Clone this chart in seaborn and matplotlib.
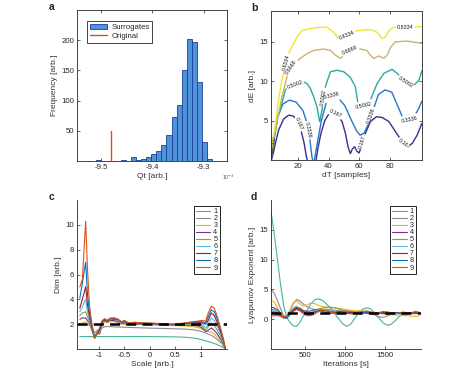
import numpy as np
import pandas as pd
import matplotlib
matplotlib.use("Agg")
import matplotlib.pyplot as plt
import seaborn as sns
from matplotlib.patches import Patch
from matplotlib.lines import Line2D

sns.set_theme(style="white")
plt.rcParams["font.family"] = ["Liberation Sans", "DejaVu Sans"]
plt.rcParams["axes.unicode_minus"] = False

# ---------------- Panel a: histogram ----------------
qt_bin_start = -9.5097      # x1e-3
qt_bin_width = 0.0098
qt_counts = [2, 0, 0, 0, 0, 2, 0, 7, 2, 4, 6, 11, 16, 27, 43, 73, 92, 150, 202, 197, 131, 32, 4]
orig_qt = -9.480
orig_height = 50

# ---------------- Panel b: contour lines ----------------
b_levels = [0.167, 0.3336, 0.5002, 0.6668, 0.8334]
b_x_167 = [2.4, 3.0, 4.0, 4.5, 7.35, 10.6, 13.9, 16.7, 19.3, 22.0, 24.1, 25.5, 26.1, 28.5, 31.8, 33.0, 35.0, 37.5, 40.0,
           42.5, 45.5, 48.8, 51.0, 52.7, 54.2, 55.5, 56.9, 58.6, 60.0, 61.2, 64.0, 67.3, 71.3, 75.0, 79.3, 83.7, 88.0,
           91.3, 94.6, 97.9, 101.0]
b_y_167 = [-0.3, 0.3, 1.0, 1.5, 3.8, 5.2, 5.7, 5.6, 5.2, 3.8, 2.1, 0.46, 0.0, -1.0, 0.0, 1.5, 3.4, 5.0, 5.8,
           6.1, 5.7, 4.9, 3.4, 1.7, 0.8, 1.4, 1.7, 1.1, 0.9, 1.7, 3.4, 4.9, 5.5, 5.4, 4.9, 3.6, 2.35,
           1.7, 2.1, 3.2, 4.7]
b_x_3336 = [2.4, 3.0, 4.0, 4.6, 6.8, 10.1, 14.45, 18.8, 23.2, 25.4, 27.6, 29.1, 30.0, 30.8, 33.1, 35.3, 38.6, 41.8,
            46.2, 50.6, 55.0, 58.3, 60.5, 63.3, 66.0, 69.2, 72.5, 76.9, 81.3, 84.6, 87.9, 91.1, 95.5, 98.8, 101.0]
b_y_3336 = [-0.1, 0.6, 1.8, 2.9, 5.5, 7.1, 7.6, 7.35, 6.3, 5.0, 2.9, 0.4, -0.4, 0.0, 2.6, 5.0, 7.35, 8.2,
            7.9, 6.9, 5.0, 3.7, 3.15, 3.4, 4.6, 6.4, 8.3, 8.9, 8.6, 7.1, 5.6, 5.0, 5.4, 6.5, 7.5]
b_x_5002 = [2.4, 3.0, 4.0, 5.2, 8.4, 11.7, 14.5, 18.3, 23.7, 25.9, 28.1, 30.3, 32.4, 34.2, 35.7, 37.9, 41.2, 45.5,
            49.9, 54.2, 57.5, 59.0, 60.8, 64.0, 67.3, 71.7, 76.1, 81.5, 84.8, 90.2, 95.7, 99.0, 101.0]
b_y_5002 = [0.05, 0.8, 2.2, 3.4, 6.3, 8.9, 9.4, 9.5, 9.9, 9.7, 9.1, 8.0, 6.8, 4.8, 6.3, 9.3, 11.2, 11.4,
            11.2, 10.5, 9.3, 7.4, 6.7, 7.0, 7.6, 9.7, 11.0, 11.5, 11.0, 9.8, 9.5, 10.1, 11.4]
b_x_6668 = [2.4, 3.0, 4.0, 6.3, 9.5, 12.8, 16.1, 21.5, 25.9, 30.3, 36.8, 41.2, 44.4, 47.7, 54.2, 60.8, 65.1, 67.3,
            69.5, 72.8, 76.0, 78.2, 80.4, 83.7, 91.3, 101.0]
b_y_6668 = [0.2, 1.0, 2.6, 4.66, 8.0, 10.5, 12.0, 12.9, 13.5, 13.9, 14.1, 13.9, 13.3, 12.9, 13.9, 14.1, 13.9, 13.3,
            12.9, 13.2, 12.9, 13.3, 14.3, 15.0, 15.1, 14.8]
b_x_8334 = [2.4, 3.0, 4.0, 5.2, 7.35, 9.5, 11.7, 13.9, 19.3, 22.6, 25.9, 32.4, 39.0, 43.3, 46.6, 52.0, 58.6, 67.3,
            71.7, 75.0, 77.1, 79.3, 82.6, 101.0]
b_y_8334 = [0.35, 1.3, 3.0, 4.24, 7.6, 10.1, 11.8, 13.5, 15.6, 16.4, 16.6, 16.8, 16.85, 16.2, 15.4, 15.8, 16.4, 16.55,
            16.2, 15.4, 15.6, 16.4, 16.85, 16.9]
b_colors = ["#3b2f8f", "#2677c9", "#2aaa9c", "#c9b56e", "#f1e52c"]

# ---------------- Panel c: dimension vs scale ----------------
c_scale = [-1.38, -1.33, -1.265, -1.23, -1.19, -1.14, -1.09, -1.04, -0.99, -0.94, -0.89, -0.84, -0.78, -0.70, -0.63,
           -0.56, -0.50, -0.42, -0.30, -0.15, 0.0, 0.2, 0.4, 0.55, 0.7, 0.85, 0.95, 1.03, 1.10, 1.15, 1.21, 1.27,
           1.33, 1.40, 1.45, 1.49]
c_m1 = [1.0, 1.0, 1.0, 1.0, 1.0, 1.0, 1.0, 1.0, 1.0, 1.0, 1.0, 1.0, 1.0, 1.0, 1.0, 1.0, 1.0, 1.0, 1.0, 1.0, 1.0,
        0.99, 0.98, 0.97, 0.95, 0.88, 0.82, 0.74, 0.66, 0.6, 0.52, 0.44, 0.35, 0.22, 0.12, 0.0]
c_m2 = [1.9, 1.95, 2.0, 1.95, 1.9, 1.8, 1.3, 1.5, 1.55, 1.7, 1.8, 1.8, 1.8, 1.78, 1.77, 1.76, 1.75, 1.74, 1.72, 1.7,
        1.68, 1.66, 1.64, 1.62, 1.6, 1.55, 1.48, 1.38, 1.28, 1.2, 1.1, 0.95, 0.75, 0.5, 0.25, 0.0]
c_m3 = [2.0, 2.1, 2.2, 2.1, 2.0, 1.6, 1.1, 1.3, 1.4, 1.9, 2.2, 2.1, 2.2, 2.2, 2.1, 2.0, 2.0, 2.0, 1.98, 1.97, 1.95,
        1.93, 1.9, 1.88, 1.85, 1.8, 1.72, 1.6, 1.45, 1.4, 1.35, 1.2, 0.95, 0.6, 0.3, 0.0]
c_m4 = [2.4, 2.5, 2.5, 2.3, 2.1, 1.5, 1.0, 1.3, 1.2, 2.0, 2.3, 2.2, 2.3, 2.3, 2.2, 2.05, 2.05, 2.0, 2.0, 2.0, 1.98,
        1.96, 1.94, 1.92, 1.92, 1.9, 1.85, 1.7, 1.4, 1.5, 1.7, 1.5, 1.2, 0.75, 0.4, 0.0]
c_m5 = [2.7, 2.9, 3.0, 2.6, 2.2, 1.5, 0.95, 1.25, 1.3, 2.0, 2.3, 2.2, 2.35, 2.4, 2.3, 2.1, 2.1, 2.05, 2.05, 2.0, 2.0,
        1.98, 1.95, 1.95, 1.97, 2.0, 1.95, 1.85, 1.5, 1.8, 2.1, 1.9, 1.5, 0.95, 0.45, 0.0]
c_m6 = [3.0, 3.4, 4.0, 3.0, 2.4, 1.6, 0.9, 1.2, 1.4, 2.1, 2.35, 2.25, 2.4, 2.4, 2.3, 2.1, 2.15, 2.05, 2.1, 2.05, 2.0,
        2.0, 1.97, 1.97, 2.0, 2.05, 2.05, 2.0, 1.7, 2.0, 2.5, 2.3, 1.8, 1.1, 0.55, 0.0]
c_m7 = [3.3, 4.0, 5.0, 3.6, 2.6, 1.7, 0.9, 1.2, 1.5, 2.2, 2.35, 2.2, 2.45, 2.4, 2.4, 2.15, 2.2, 2.1, 2.1, 2.05, 2.05,
        2.0, 1.98, 2.0, 2.05, 2.1, 2.15, 2.1, 2.0, 2.3, 2.9, 2.7, 2.1, 1.3, 0.65, 0.0]
c_m8 = [4.1, 5.3, 7.0, 4.5, 2.9, 1.8, 0.85, 1.3, 1.6, 2.2, 2.4, 2.3, 2.45, 2.5, 2.35, 2.2, 2.25, 2.1, 2.15, 2.1, 2.05,
        2.05, 2.0, 2.0, 2.1, 2.15, 2.2, 2.2, 2.1, 2.6, 3.15, 3.0, 2.4, 1.45, 0.7, 0.0]
c_m9 = [5.0, 5.6, 10.3, 6.5, 3.5, 2.0, 0.85, 1.3, 1.7, 2.3, 2.45, 2.3, 2.5, 2.5, 2.4, 2.2, 2.3, 2.1, 2.15, 2.1, 2.1,
        2.05, 2.0, 2.02, 2.1, 2.2, 2.25, 2.3, 2.25, 2.9, 3.45, 3.3, 2.6, 1.6, 0.8, 0.0]
c_ref = 2.05

# ---------------- Panel d: Lyapunov exponent ----------------
d_iter = [71, 110, 150, 190, 230, 270, 310, 350, 390, 430, 470, 520, 570, 620, 670, 720, 770, 820, 870, 920, 970,
          1020, 1070, 1120, 1170, 1220, 1270, 1320, 1370, 1420, 1470, 1520, 1570, 1620, 1670, 1720, 1770, 1820,
          1870, 1920]
d_m1 = [18.1, 14.5, 10.2, 5.9, 2.2, 0.3, -0.6, -1.1, -1.2, -0.6, 0.4, 1.5, 2.6, 3.3, 3.4, 3.1, 2.5, 1.8, 0.9, 0.0,
        -0.8, -1.2, -0.8, 0.2, 1.1, 1.7, 1.9, 1.7, 1.0, 0.2, -0.6, -1.0, -0.9, -0.3, 0.4, 0.9, 1.1, 1.1, 1.0, 1.0]
d_m2 = [5.0, 4.4, 3.2, 1.8, 0.6, 0.4, 1.5, 2.6, 3.3, 3.1, 2.6, 2.1, 1.8, 1.6, 1.5, 1.6, 1.7, 1.6, 1.5, 1.4, 1.3,
        1.2, 1.2, 1.1, 1.2, 1.3, 1.2, 1.0, 0.7, 0.4, 0.3, 0.5, 0.8, 1.0, 1.1, 1.0, 1.0, 1.1, 1.2, 1.1]
d_m3 = [3.2, 2.9, 2.0, 1.0, 0.5, 0.5, 1.6, 2.8, 3.1, 2.6, 2.2, 2.4, 2.7, 2.6, 2.3, 2.1, 2.0, 2.0, 1.9, 1.8, 1.7,
        1.6, 1.5, 1.4, 1.4, 1.3, 1.3, 1.2, 1.1, 1.0, 0.9, 0.8, 0.8, 0.7, 0.7, 0.6, 0.6, 0.5, 0.5, 0.5]
d_m4 = [2.0, 1.9, 1.6, 1.0, 0.3, 0.2, 0.8, 1.6, 2.0, 1.9, 1.5, 1.3, 1.4, 1.6, 1.7, 1.6, 1.4, 1.3, 1.2, 1.3, 1.4,
        1.3, 1.2, 1.1, 1.1, 1.2, 1.1, 1.0, 0.9, 1.0, 1.1, 1.0, 0.9, 1.0, 1.1, 1.0, 0.9, 1.0, 1.1, 1.0]
d_m5 = [1.7, 1.6, 1.3, 0.8, 0.4, 0.5, 1.0, 1.5, 1.8, 1.7, 1.3, 1.0, 1.1, 1.4, 1.7, 1.9, 2.0, 2.0, 1.9, 1.7, 1.5,
        1.3, 1.2, 1.2, 1.3, 1.3, 1.2, 1.1, 1.0, 1.0, 1.1, 1.1, 1.0, 1.0, 1.0, 1.1, 1.0, 1.0, 0.9, 1.0]
d_m6 = [1.4, 1.4, 1.2, 0.7, 0.2, 0.3, 1.2, 1.9, 2.2, 1.8, 1.1, 0.7, 0.8, 1.2, 1.5, 1.6, 1.5, 1.3, 1.1, 1.0, 1.0,
        1.1, 1.2, 1.2, 1.1, 1.0, 1.0, 1.1, 1.1, 1.0, 0.9, 1.0, 1.1, 1.0, 0.9, 1.0, 1.1, 1.0, 1.0, 1.0]
d_m7 = [1.2, 1.2, 1.0, 0.6, 0.3, 0.4, 1.0, 1.6, 1.9, 1.7, 1.3, 1.0, 1.0, 1.2, 1.4, 1.5, 1.4, 1.2, 1.1, 1.1, 1.2,
        1.2, 1.1, 1.0, 1.0, 1.1, 1.2, 1.1, 1.0, 1.0, 1.1, 1.2, 1.1, 1.0, 1.0, 1.1, 1.0, 1.0, 1.1, 1.0]
d_m8 = [1.0, 1.0, 0.8, 0.5, 0.2, 0.2, 0.8, 1.4, 1.7, 1.5, 1.1, 0.8, 0.9, 1.2, 1.4, 1.3, 1.1, 1.0, 1.0, 1.1, 1.1,
        1.0, 0.9, 1.0, 1.1, 1.1, 1.0, 0.9, 1.0, 1.1, 1.0, 0.9, 1.0, 1.1, 1.0, 0.9, 1.0, 1.1, 1.0, 1.0]
d_m9 = [0.5, 0.6, 0.6, 0.5, 0.4, 0.5, 0.9, 1.3, 1.6, 1.4, 1.0, 0.6, 0.6, 0.9, 1.3, 1.5, 1.4, 1.2, 1.0, 1.0, 1.2,
        1.4, 1.3, 1.1, 1.1, 1.3, 1.4, 1.2, 1.1, 1.1, 1.3, 1.2, 1.0, 0.9, 1.0, 1.2, 1.1, 1.0, 1.3, 1.2]
d_ref = 1.0

line_labels = ["1", "2", "3", "4", "5", "6", "7", "8", "9"]
line_colors = ["#45b39d", "#8a8a96", "#edb120", "#7e2f8e", "#77ac30", "#4dbeee", "#a2142f", "#0072bd", "#d95319"]

# ================= Figure =================
fig = plt.figure(figsize=(4.74, 3.79), dpi=100)
ax_a = fig.add_axes([0.1624, 0.5752, 0.3165, 0.398])
ax_b = fig.add_axes([0.5717, 0.5778, 0.3186, 0.393])
ax_c = fig.add_axes([0.1624, 0.0792, 0.3165, 0.393])
ax_d = fig.add_axes([0.5717, 0.0792, 0.3165, 0.393])

tick_fs = 5.6
lab_fs = 6.0
spine_col = "#262626"


def style(ax, box):
    for s in ["left", "bottom", "top", "right"]:
        ax.spines[s].set_visible(box or s in ("left", "bottom"))
        ax.spines[s].set_linewidth(0.6)
        ax.spines[s].set_color(spine_col)
    ax.tick_params(direction="in", length=2.5, width=0.5, labelsize=tick_fs, pad=2,
                   colors=spine_col, top=box, right=box, bottom=True, left=True)
    ax.xaxis.label.set_size(lab_fs)
    ax.yaxis.label.set_size(lab_fs)
    ax.xaxis.label.set_color("#333333")
    ax.yaxis.label.set_color("#333333")
    ax.xaxis.labelpad = 1.5
    ax.yaxis.labelpad = 2.5


# ---- a ----
edges = (qt_bin_start + qt_bin_width * np.arange(len(qt_counts) + 1)).tolist()
centers = [(edges[i] + edges[i + 1]) / 2 for i in range(len(qt_counts))]
df_a = pd.DataFrame({"qt": centers, "count": qt_counts})
sns.histplot(data=df_a, x="qt", weights="count", bins=edges, ax=ax_a, color="#4f93dc",
             edgecolor="#1b3f94", linewidth=0.6, alpha=1.0)
ax_a.plot([orig_qt, orig_qt], [0, orig_height], color="#d95319", lw=1.0)
ax_a.set_xlim(-9.547, -9.2545)
ax_a.set_ylim(0, 250)
ax_a.set_xticks([-9.5, -9.4, -9.3])
ax_a.set_xticklabels(["-9.5", "-9.4", "-9.3"])
ax_a.set_yticks([50, 100, 150, 200])
ax_a.set_xlabel("Qt [arb.]")
ax_a.set_ylabel("Frequency [arb.]")
style(ax_a, True)
ax_a.text(0.97, -0.075, r"10$^{-3}$", transform=ax_a.transAxes, fontsize=3.6, color="#555555", ha="left", va="top")
leg_a = ax_a.legend(handles=[Patch(facecolor="#4f93dc", edgecolor="#1b3f94", linewidth=0.6, label="Surrogates"),
                             Line2D([0], [0], color="#d95319", lw=1.0, label="Original")],
                    loc="upper left", bbox_to_anchor=(0.04, 0.955), fontsize=5.6, frameon=True, fancybox=False,
                    edgecolor="#222222", framealpha=1, borderpad=0.35, handlelength=2.2, handletextpad=0.6,
                    labelspacing=0.2)
leg_a.get_frame().set_linewidth(0.6)

# ---- b ----
b_curves = [(b_x_167, b_y_167), (b_x_3336, b_y_3336), (b_x_5002, b_y_5002), (b_x_6668, b_y_6668),
            (b_x_8334, b_y_8334)]
gx = np.linspace(2.4, 101, 700)
gy = np.linspace(0, 19, 500)
H = np.array([np.interp(gx, cx, cy) for cx, cy in b_curves])
for i in range(1, len(H)):
    H[i] = np.maximum(H[i], H[i - 1] + 0.02)
Z = np.empty((len(gy), len(gx)))
ext_levels = [0.0] + b_levels + [1.0]
for j in range(len(gx)):
    hs = np.concatenate([[H[0, j] - 10], H[:, j], [H[-1, j] + 10]])
    Z[:, j] = np.interp(gy, hs, ext_levels)
cs = ax_b.contour(gx, gy, Z, levels=b_levels, colors=b_colors, linewidths=1.0)
label_pos = [(12.3, 12.4), (52, 15.8), (90, 16.9),
             (15.5, 11.8), (54, 13.9),
             (18, 9.5), (36.6, 8.0), (63, 6.9), (90, 9.8),
             (27, 3.8), (42, 8.2), (67.8, 5.6), (93, 5.1),
             (21, 4.6), (44.5, 5.9), (62.5, 2.3), (89.5, 2.1),
             (3.3, 0.7), (3.9, 2.0)]
ax_b.clabel(cs, manual=label_pos, fmt="%g", fontsize=3.9, inline=True, inline_spacing=1, colors="k")
ax_b.set_xlim(2.4, 101)
ax_b.set_ylim(0, 18.9)
ax_b.set_xticks([20, 40, 60, 80])
ax_b.set_yticks([5, 10, 15])
ax_b.set_xlabel("dT [samples]")
ax_b.set_ylabel("dE [arb.]")
style(ax_b, True)

# ---- c ----
c_series = [c_m1, c_m2, c_m3, c_m4, c_m5, c_m6, c_m7, c_m8, c_m9]
df_c = pd.concat([pd.DataFrame({"Scale": c_scale, "Dim": s, "m": lab}) for s, lab in zip(c_series, line_labels)])
sns.lineplot(data=df_c, x="Scale", y="Dim", hue="m", palette=line_colors, ax=ax_c, lw=0.8, sort=False)
ax_c.axhline(c_ref, color="black", lw=1.8, ls=(0, (4, 2.5)), zorder=5)
ax_c.set_xlim(-1.436, 1.52)
ax_c.set_ylim(0, 12)
ax_c.set_xticks([-1, -0.5, 0, 0.5, 1])
ax_c.set_xticklabels(["-1", "-0.5", "0", "0.5", "1"])
ax_c.set_yticks([2, 4, 6, 8, 10])
ax_c.set_xlabel("Scale [arb.]")
ax_c.set_ylabel("Dim [arb.]")
style(ax_c, False)

# ---- d ----
d_series = [d_m1, d_m2, d_m3, d_m4, d_m5, d_m6, d_m7, d_m8, d_m9]
df_d = pd.concat([pd.DataFrame({"Iterations": d_iter, "LE": s, "m": lab}) for s, lab in zip(d_series, line_labels)])
sns.lineplot(data=df_d, x="Iterations", y="LE", hue="m", palette=line_colors, ax=ax_d, lw=0.8, sort=False)
ax_d.axhline(d_ref, color="black", lw=1.8, ls=(0, (4, 2.5)), zorder=5)
ax_d.set_xlim(71, 1946)
ax_d.set_ylim(-5, 20)
ax_d.set_xticks([500, 1000, 1500])
ax_d.set_yticks([0, 5, 10, 15])
ax_d.set_xlabel("Iterations [s]")
ax_d.set_ylabel("Lyapunov Exponent [arb.]")
style(ax_d, False)

for ax, anchor in [(ax_c, (0.975, 0.985)), (ax_d, (0.99, 0.985))]:
    h, l = ax.get_legend_handles_labels()
    lg = ax.legend(h, l, loc="upper right", bbox_to_anchor=anchor, fontsize=5.2, frameon=True, fancybox=False,
                   edgecolor="#222222", framealpha=1, borderpad=0.3, handlelength=2.0, handletextpad=0.4,
                   labelspacing=0.0, title=None, markerfirst=True)
    lg.get_frame().set_linewidth(0.7)

for ax, letter, pos in [(ax_a, "a", (49, 10)), (ax_b, "b", (251, 11)), (ax_c, "c", (49, 200)), (ax_d, "d", (251, 200))]:
    fig.text(pos[0] / 474, 1 - pos[1] / 379, letter, fontsize=7.5, fontweight="bold", ha="left", va="baseline")

fig.savefig("out.png", dpi=100)
